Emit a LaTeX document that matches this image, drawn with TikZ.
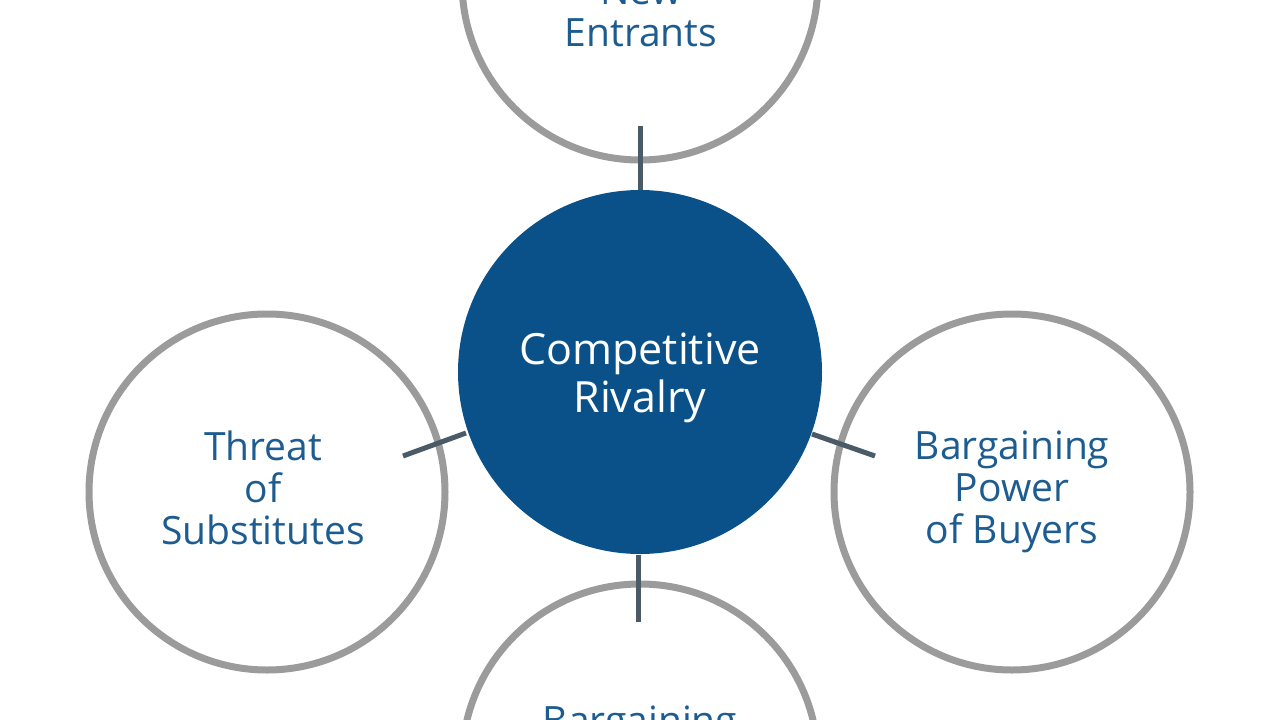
\documentclass[tikz,border=0pt]{standalone}
\usepackage{fontspec}
\setmainfont{Open Sans}
\definecolor{dblue}{HTML}{0B5189}
\definecolor{tblue}{HTML}{1D5C90}
\definecolor{ring}{HTML}{9B9B9B}
\definecolor{link}{HTML}{4A5A66}
\begin{document}
\begin{tikzpicture}[x=1pt,y=-1pt,
  force/.style={circle,draw=ring,line width=7pt,minimum size=356pt,inner sep=0pt},
  lab/.style={text=tblue,align=center,inner sep=0pt,font=\fontsize{39}{42}\selectfont},
  hub/.style={circle,fill=dblue,minimum size=364pt,inner sep=0pt},
  conn/.style={draw=link,line width=5pt}]
\useasboundingbox (0,0) rectangle (1280,720);
\clip (0,0) rectangle (1280,720);
\node[hub] (c) at (640,372) {};
\node[text=white,align=center,inner sep=0pt,font=\fontsize{43}{48}\selectfont] (cl) at (640,378) {Competitive\\Rivalry};
\node[force] (t) at (640,-18) {};
\node[force] (l) at (267,492) {};
\node[force] (r) at (1012,492) {};
\node[force] (b) at (640,762) {};
\node[lab] (tl) at (641,12) {New\\Entrants};
\node[lab] (ll) at (263,488) {Threat\\of\\Substitutes};
\node[lab] (rl) at (1012,492) {Bargaining\\Power\\of Buyers};
\node[lab] (bl) at (640,767) {Bargaining\\Power\\of Suppliers};
\coordinate (t1) at (640,126); \coordinate (t2) at (640,190);
\coordinate (l1) at (403,456); \coordinate (l2) at (466,433);
\coordinate (r1) at (812,434); \coordinate (r2) at (875,456);
\coordinate (b1) at (638,555); \coordinate (b2) at (638,622);
\draw[conn] (t1) -- (t2);
\draw[conn] (l1) -- (l2);
\draw[conn] (r1) -- (r2);
\draw[conn] (b1) -- (b2);
\end{tikzpicture}
\end{document}
